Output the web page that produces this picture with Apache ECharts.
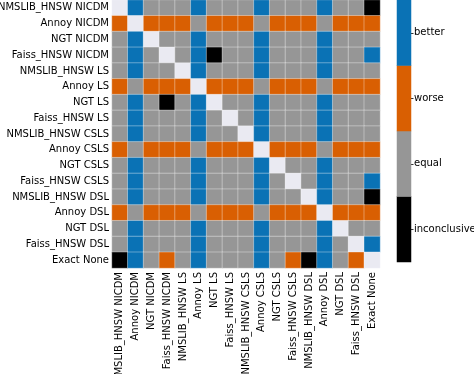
<!DOCTYPE html>
<html>
<head>
<meta charset="utf-8">
<script src="https://cdn.jsdelivr.net/npm/echarts@6/dist/echarts.min.js"></script>
<style>html,body{margin:0;padding:0;background:#fff}#c{width:474px;height:374px}</style>
</head>
<body>
<div id="c"></div>
<script>
// Methods (rows and columns)
const methods = ['NMSLIB_HNSW NICDM','Annoy NICDM','NGT NICDM','Faiss_HNSW NICDM','NMSLIB_HNSW LS','Annoy LS','NGT LS','Faiss_HNSW LS','NMSLIB_HNSW CSLS','Annoy CSLS','NGT CSLS','Faiss_HNSW CSLS','NMSLIB_HNSW DSL','Annoy DSL','NGT DSL','Faiss_HNSW DSL','Exact None'];
// Outcome codes: 0 inconclusive, 1 equal, 2 worse, 3 better, 4 self (diagonal)
const outcomeLabels = ['inconclusive','equal','worse','better'];
const outcomes = [
  [4,3,1,1,1,3,1,1,1,3,1,1,1,3,1,1,0],
  [2,4,2,2,2,1,2,2,2,1,2,2,2,1,2,2,2],
  [1,3,4,1,1,3,1,1,1,3,1,1,1,3,1,1,1],
  [1,3,1,4,1,3,0,1,1,3,1,1,1,3,1,1,3],
  [1,3,1,1,4,3,1,1,1,3,1,1,1,3,1,1,1],
  [2,1,2,2,2,4,2,2,2,1,2,2,2,1,2,2,2],
  [1,3,1,0,1,3,4,1,1,3,1,1,1,3,1,1,1],
  [1,3,1,1,1,3,1,4,1,3,1,1,1,3,1,1,1],
  [1,3,1,1,1,3,1,1,4,3,1,1,1,3,1,1,1],
  [2,1,2,2,2,1,2,2,2,4,2,2,2,1,2,2,2],
  [1,3,1,1,1,3,1,1,1,3,4,1,1,3,1,1,1],
  [1,3,1,1,1,3,1,1,1,3,1,4,1,3,1,1,3],
  [1,3,1,1,1,3,1,1,1,3,1,1,4,3,1,1,0],
  [2,1,2,2,2,1,2,2,2,1,2,2,2,4,2,2,2],
  [1,3,1,1,1,3,1,1,1,3,1,1,1,3,4,1,1],
  [1,3,1,1,1,3,1,1,1,3,1,1,1,3,1,4,3],
  [0,3,1,2,1,3,1,1,1,3,1,2,0,3,1,2,4]
];
const colors = ['#000000','#969696','#d95f02','#0a72b5','#eaeaf2'];

const cells = [];
outcomes.forEach((row, r) => row.forEach((v, c) => cells.push([c, r, v])));
const barCells = outcomeLabels.map((l, i) => [0, i, i]);

const font = 'DejaVu Sans';
const fs = 10;
const chart = echarts.init(document.getElementById('c'), null, {renderer: 'canvas'});
chart.setOption({
  animation: false,
  textStyle: {fontFamily: font},
  grid: [
    {left: 112, top: 0, width: 268, height: 268, containLabel: false, outerBoundsMode: 'none'},
    {left: 397, top: 0, width: 14, height: 262, containLabel: false, outerBoundsMode: 'none'}
  ],
  xAxis: [
    {type: 'category', gridIndex: 0, data: methods, position: 'bottom',
     axisLine: {show: false}, axisTick: {show: false}, splitLine: {show: false},
     axisLabel: {rotate: 90, interval: 0, margin: 4, fontSize: fs, color: '#000', fontFamily: font}},
    {type: 'category', gridIndex: 1, data: [''], show: false}
  ],
  yAxis: [
    {type: 'category', gridIndex: 0, data: methods, inverse: true,
     axisLine: {show: false}, axisTick: {show: false}, splitLine: {show: false},
     axisLabel: {interval: 0, margin: 3, fontSize: fs, color: '#000', fontFamily: font}},
    {type: 'category', gridIndex: 1, data: outcomeLabels, position: 'right',
     axisLine: {show: false}, axisTick: {show: true, alignWithLabel: true, length: 2.5, lineStyle: {color: '#000', width: 0.8}},
     splitLine: {show: false},
     axisLabel: {margin: 3, fontSize: fs, color: '#000', fontFamily: font}}
  ],
  visualMap: {
    show: false, type: 'piecewise', dimension: 2, seriesIndex: [0, 1],
    pieces: colors.map((col, i) => ({value: i, color: col}))
  },
  series: [
    {type: 'heatmap', xAxisIndex: 0, yAxisIndex: 0, data: cells,
     itemStyle: {borderColor: 'rgba(255,255,255,0.45)', borderWidth: 0.8},
     emphasis: {disabled: true}},
    {type: 'heatmap', xAxisIndex: 1, yAxisIndex: 1, data: barCells,
     itemStyle: {borderWidth: 0}, emphasis: {disabled: true}}
  ]
});
</script>
</body>
</html>
